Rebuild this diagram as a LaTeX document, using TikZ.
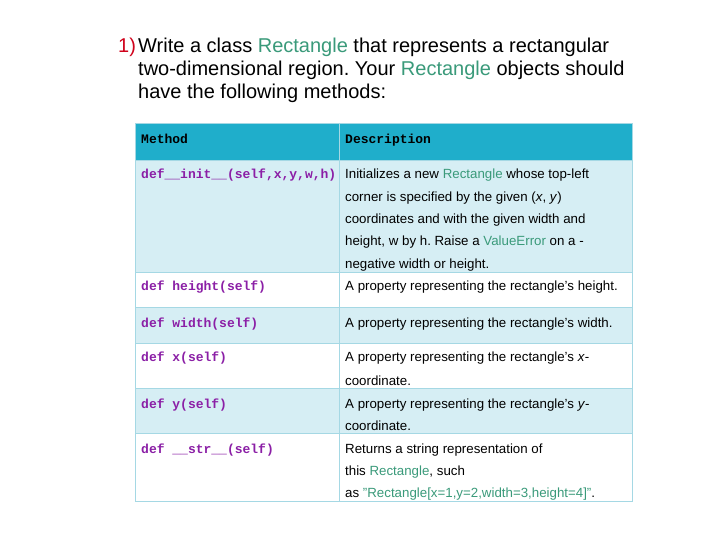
\documentclass[tikz,border=0pt]{standalone}
\usepackage{fontspec}
\setmainfont{Liberation Sans}
\newfontfamily\codefont{Liberation Mono}
\frenchspacing
\definecolor{hdr}{HTML}{1FAECB}
\definecolor{lite}{HTML}{D6EEF4}
\definecolor{brd}{HTML}{A5D8E4}
\definecolor{grn}{HTML}{3A9A7A}
\definecolor{purp}{HTML}{8B1FA6}
\definecolor{redn}{HTML}{D0021B}
\begin{document}
\begin{tikzpicture}[x=1pt,y=-1pt,
  ttl/.style={anchor=base west,inner sep=0,font=\fontsize{20}{22}\selectfont},
  dsc/.style={anchor=base west,inner sep=0,font=\fontsize{13.3}{15}\selectfont},
  cod/.style={anchor=base west,inner sep=0,font=\codefont\bfseries\fontsize{13}{15}\selectfont,text=purp},
  hd/.style={anchor=base west,inner sep=0,font=\codefont\bfseries\fontsize{13}{15}\selectfont}]
\useasboundingbox (0,0) rectangle (723,537);
\fill[white] (0,0) rectangle (723,537);
% title
\node[ttl,text=redn] (n1) at (118,53) {1)};
\node[ttl] (t1) at (138,53) {Write a class \textcolor{grn}{Rectangle} that represents a rectangular};
\node[ttl] (t2) at (138,76) {two-dimensional region. Your \textcolor{grn}{Rectangle} objects should};
\node[ttl] (t3) at (138,99) {have the following methods:};
% table backgrounds
\fill[hdr] (135,123) rectangle (632,160);
\fill[lite] (135,160) rectangle (632,272);
\fill[lite] (135,307) rectangle (632,343);
\fill[lite] (135,388) rectangle (632,433);
\draw[brd,line width=0.8pt] (135,123) rectangle (632,501);
\draw[brd,line width=0.8pt] (339,123) -- (339,501);
\foreach \yy in {160,272,307,343,388,433} \draw[brd,line width=0.8pt] (135,\yy) -- (632,\yy);
% header
\node[hd] (h1) at (141,144) {Method};
\node[hd] (h2) at (345,144) {Description};
% rows
\node[cod] (c1) at (141,179) {def\_\_init\_\_(self,x,y,w,h)};
\node[dsc] (d1a) at (345,179) {Initializes a new \textcolor{grn}{Rectangle} whose top-left};
\node[dsc] (d1b) at (345,202) {corner is specified by the given (\textit{x}, \textit{y})};
\node[dsc] (d1c) at (345,224) {coordinates and with the given width and};
\node[dsc] (d1d) at (345,246) {height, w by h. Raise a \textcolor{grn}{ValueError} on a -};
\node[dsc] (d1e) at (345,269) {negative width or height.};
\node[cod] (c2) at (141,291) {def height(self)};
\node[dsc] (d2) at (345,291) {A property representing the rectangle's height.};
\node[cod] (c3) at (141,327) {def width(self)};
\node[dsc] (d3) at (345,327) {A property representing the rectangle's width.};
\node[cod] (c4) at (141,362) {def x(self)};
\node[dsc] (d4a) at (345,362) {A property representing the rectangle's \textit{x}-};
\node[dsc] (d4b) at (345,385) {coordinate.};
\node[cod] (c5) at (141,408) {def y(self)};
\node[dsc] (d5a) at (345,408) {A property representing the rectangle's \textit{y}-};
\node[dsc] (d5b) at (345,430) {coordinate.};
\node[cod] (c6) at (141,453) {def \_\_str\_\_(self)};
\node[dsc] (d6a) at (345,453) {Returns a string representation of};
\node[dsc] (d6b) at (345,475) {this \textcolor{grn}{Rectangle}, such};
\node[dsc] (d6c) at (345,497) {as \textcolor{grn}{"Rectangle[x=1,y=2,width=3,height=4]"}.};
\end{tikzpicture}
\end{document}
